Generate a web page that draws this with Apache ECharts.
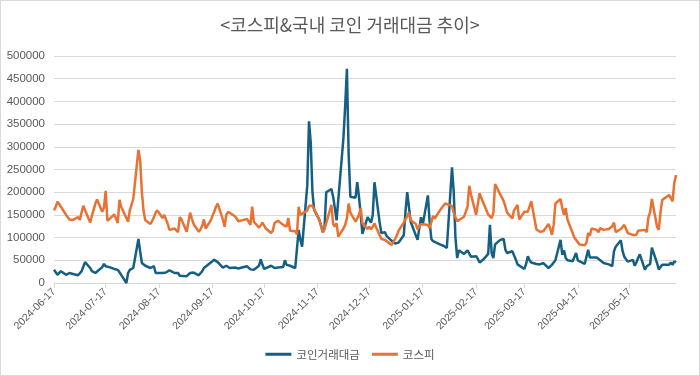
<!DOCTYPE html>
<html>
<head>
<meta charset="utf-8">
<script src="https://cdn.jsdelivr.net/npm/echarts@6/dist/echarts.min.js"></script>
<style>
  html, body { margin: 0; padding: 0; background: #fff; }
  #chart { width: 698px; height: 374px; border: 1px solid #d9d9d9; }
</style>
</head>
<body>
<div id="chart"></div>
<script>
// 거래일(월~금) 기준, 2024-06-17 ~ 2025-06-13, 주 단위로 5개씩
var startDate = [2024, 6, 17];
var endDate = [2025, 6, 13];

var coin = [
  29000, 33000, 18000, 18000, 26000,
  18000, 20000, 22000, 22000, 20000,
  17000, 17000, 26000, 29000, 46000,
  33000, 26000, 26000, 22000, 26000,
  35000, 42000, 37000, 38000, 35000,
  31000, 29000, 29000, 33000, 18000,
  0, 22000, 29000, 29000, 33000,
  97000, 70000, 44000, 42000, 38000,
  33000, 29000, 37000, 22000, 18000,
  22000, 22000, 23000, 22000, 28000,
  22000, 23000, 22000, 16000, 16000,
  15000, 16000, 22000, 18000, 23000,
  17000, 18000, 26000, 33000, 36000,
  45000, 48000, 51000, 50000, 46000,
  34000, 34000, 38000, 37000, 33000,
  34000, 35000, 32000, 33000, 34000,
  37000, 36000, 30000, 27000, 29000,
  38000, 52000, 40000, 31000, 32000,
  38000, 38000, 33000, 31000, 34000,
  35000, 50000, 40000, 37000, 38000,
  33000, 36000, 117000, 95000, 80000,
  215000, 356000, 310000, 200000, 161000,
  139000, 127000, 112000, 120000, 200000,
  207000, 190000, 165000, 138000, 135000,
  320000, 390000, 472000, 285000, 190000,
  188000, 222000, 190000, 150000, 108000,
  145000, 145000, 133000, 150000, 222000,
  133000, 110000, 113000, 112000, 104000,
  93000, 89000, 87000, 86000, 89000,
  105000, 157000, 200000, 198000, 135000,
  105000, 95000, 92000, 145000, 128000,
  193000, 135000, 97000, 92000, 92000,
  85000, 84000, 82000, 80000, 77000,
  255000, 200000, 100000, 55000, 72000,
  64000, 68000, 72000, 68000, 58000,
  59000, 53000, 45000, 42000, 51000,
  64000, 128000, 66000, 55000, 85000,
  95000, 97000, 97000, 73000, 66000,
  70000, 71000, 52000, 41000, 37000,
  31000, 42000, 59000, 50000, 45000,
  42000, 40000, 41000, 42000, 44000,
  33000, 37000, 40000, 40000, 50000,
  95000, 62000, 72000, 55000, 50000,
  48000, 45000, 66000, 50000, 48000,
  42000, 40000, 73000, 56000, 59000,
  56000, 53000, 50000, 47000, 44000,
  41000, 39000, 37000, 70000, 80000,
  94000, 70000, 58000, 54000, 47000,
  51000, 38000, 45000, 55000, 63000,
  29000, 37000, 37000, 42000, 78000,
  44000, 30000, 32000, 40000, 37000,
  40000, 45000, 40000, 48000, 45000
];

var kospi = [
  160000, 168000, 179000, 174000, 178000,
  150000, 152000, 140000, 143000, 139000,
  145000, 139000, 155000, 170000, 172000,
  133000, 148000, 152000, 175000, 184000,
  157000, 166000, 203000, 137000, 139000,
  151000, 154000, 132000, 183000, 168000,
  143000, 135000, 160000, 160000, 185000,
  293000, 270000, 200000, 158000, 138000,
  130000, 137000, 145000, 155000, 160000,
  143000, 150000, 152000, 130000, 117000,
  120000, 116000, 112000, 145000, 140000,
  113000, 117000, 155000, 142000, 130000,
  113000, 118000, 126000, 140000, 120000,
  138000, 148000, 157000, 168000, 175000,
  140000, 124000, 150000, 157000, 160000,
  147000, 142000, 136000, 137000, 138000,
  141000, 143000, 128000, 168000, 135000,
  122000, 125000, 133000, 132000, 120000,
  110000, 115000, 132000, 136000, 137000,
  128000, 126000, 124000, 143000, 115000,
  114000, 107000, 168000, 150000, 152000,
  160000, 170000, 166000, 170000, 171000,
  140000, 125000, 112000, 119000, 132000,
  172000, 130000, 124000, 132000, 102000,
  120000, 128000, 143000, 175000, 155000,
  135000, 134000, 150000, 165000, 132000,
  119000, 124000, 118000, 124000, 131000,
  105000, 97000, 97000, 95000, 93000,
  84000, 88000, 97000, 105000, 115000,
  133000, 140000, 147000, 155000, 138000,
  130000, 118000, 122000, 130000, 127000,
  128000, 121000, 117000, 148000, 142000,
  160000, 165000, 168000, 175000, 179000,
  170000, 154000, 155000, 136000, 139000,
  146000, 150000, 168000, 214000, 195000,
  150000, 146000, 198000, 187000, 190000,
  151000, 150000, 143000, 154000, 218000,
  195000, 188000, 180000, 168000, 155000,
  142000, 160000, 163000, 172000, 140000,
  157000, 160000, 157000, 161000, 180000,
  118000, 120000, 113000, 117000, 114000,
  130000, 120000, 106000, 128000, 175000,
  185000, 165000, 150000, 165000, 140000,
  110000, 100000, 95000, 97000, 85000,
  83000, 88000, 110000, 104000, 120000,
  117000, 112000, 121000, 118000, 117000,
  119000, 120000, 125000, 133000, 112000,
  119000, 122000, 128000, 128000, 110000,
  106000, 104000, 106000, 115000, 116000,
  117000, 112000, 145000, 156000, 185000,
  124000, 117000, 155000, 183000, 187000,
  194000, 194000, 180000, 220000, 238000
];

var seriesNames = ['코인거래대금', '코스피'];
var colors = ['#156082', '#E97132'];

function pad(n) { return (n < 10 ? '0' : '') + n; }
function fmt(d) { return d.getFullYear() + '-' + pad(d.getMonth() + 1) + '-' + pad(d.getDate()); }

// 날짜축: 달력 전체 날짜, 주말은 빈칸
var days = [], coinData = [], kospiData = [];
var d = new Date(startDate[0], startDate[1] - 1, startDate[2]);
var end = new Date(endDate[0], endDate[1] - 1, endDate[2]);
var k = 0;
while (d <= end) {
  days.push(fmt(d));
  var wd = d.getDay();
  if (wd > 0 && wd < 6) {
    coinData.push(coin[k]);
    kospiData.push(kospi[k]);
    k++;
  } else {
    coinData.push(null);
    kospiData.push(null);
  }
  d.setDate(d.getDate() + 1);
}

function isTick(index, value) { return value.slice(8) === '17'; }

var chart = echarts.init(document.getElementById('chart'));
chart.setOption({
  animation: false,
  textStyle: { fontFamily: 'Liberation Sans, Noto Sans CJK KR' },
  title: {
    text: '<코스피&국내 코인 거래대금 추이>',
    left: 'center',
    top: 10,
    textStyle: { fontSize: 18, fontWeight: 'normal', color: '#595959', fontFamily: 'Noto Sans CJK KR' }
  },
  legend: {
    bottom: 10,
    left: 'center',
    icon: 'rect',
    itemWidth: 26,
    itemHeight: 3,
    itemGap: 12,
    textStyle: { fontSize: 11.5, color: '#595959', fontFamily: 'Noto Sans CJK KR' },
    data: seriesNames
  },
  grid: { left: 53, right: 23, top: 55, bottom: 92 },
  xAxis: {
    type: 'category',
    data: days,
    boundaryGap: false,
    axisLine: { lineStyle: { color: '#d9d9d9' } },
    axisTick: { interval: isTick, length: 5, lineStyle: { color: '#d9d9d9' } },
    axisLabel: { interval: isTick, rotate: 45, fontSize: 10.5, color: '#595959', margin: 7 },
    splitLine: { show: false }
  },
  yAxis: {
    type: 'value',
    min: 0,
    max: 500000,
    interval: 50000,
    axisLine: { show: false },
    axisTick: { show: false },
    axisLabel: { fontSize: 11.5, color: '#595959', margin: 9, formatter: function (v) { return String(v); } },
    splitLine: { lineStyle: { color: '#d9d9d9', width: 1 } }
  },
  series: [
    {
      name: seriesNames[0],
      type: 'line',
      data: coinData,
      connectNulls: true,
      showSymbol: false,
      symbol: 'none',
      itemStyle: { color: colors[0] },
      lineStyle: { color: colors[0], width: 2.5 }
    },
    {
      name: seriesNames[1],
      type: 'line',
      data: kospiData,
      connectNulls: true,
      showSymbol: false,
      symbol: 'none',
      itemStyle: { color: colors[1] },
      lineStyle: { color: colors[1], width: 2.5 }
    }
  ]
});
</script>
</body>
</html>
